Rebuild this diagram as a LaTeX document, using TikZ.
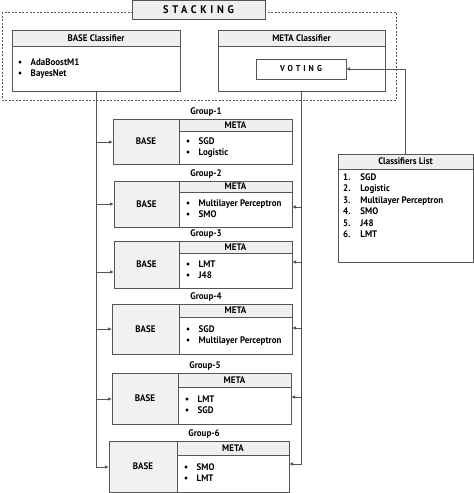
\documentclass[tikz,border=0pt]{standalone}
\usepackage{fontspec}
\setmainfont{PT Sans}[FakeStretch=0.94]
\usetikzlibrary{arrows.meta}
\definecolor{ln}{HTML}{555555}
\definecolor{hd}{HTML}{EFEFEF}
\definecolor{bf}{HTML}{F1F1F1}
\tikzset{
  txtfont/.style={font=\bfseries\fontsize{9.5}{11.5}\selectfont},
  plainbox/.style={draw=ln, line width=0.9pt, inner sep=0pt, outer sep=0pt, fill=white, txtfont},
  hdr/.style={plainbox, fill=hd},
  basefill/.style={plainbox, fill=bf},
  body/.style={plainbox},
  lbl/.style={txtfont, inner sep=0pt},
  conn/.style={draw=ln, line width=0.9pt},
  arr/.style={conn, -{Latex[length=4pt,width=3.6pt]}},
}
\newcommand\cbox[7]{%
  \pgfmathsetmacro\cbw{#5-#3}\pgfmathsetmacro\cbh{#6-#4}%
  \node[#1, minimum width=\cbw pt, minimum height=\cbh pt, anchor=north west] (#2) at (#3,#4) {#7};}
\newcommand\twoitems[2]{\begin{tabular}{@{}l@{\hspace{8.5pt}}l@{}}\textbullet & #1\\ \textbullet & #2\end{tabular}}
\newcommand\mkgroup[9]{%
  \cbox{basefill}{b#1}{#2}{#5}{#3}{#7}{BASE}
  \cbox{hdr}{m#1}{#3}{#5}{#4}{#6}{META}
  \cbox{body}{mb#1}{#3}{#6}{#4}{#7}{}
  \node[lbl, anchor=west, xshift=7pt] (it#1) at (mb#1.west) {\twoitems{#8}{#9}};
  \pgfmathsetmacro\glx{#3+27}\pgfmathsetmacro\gly{#5-7}%
  \node[lbl] (gl#1) at (\glx,\gly) {Group-#1};}
\begin{document}
\begin{tikzpicture}[x=1pt,y=-1pt]
\useasboundingbox (0,0) rectangle (474,493);
% outer dashed frame
\draw[ln, line width=0.7pt, dash pattern=on 2pt off 1.5pt] (2,12) rectangle (396,100);
\cbox{hdr}{stk}{132}{0}{265}{19}{\fontsize{11}{12}\selectfont\addfontfeature{LetterSpace=34}STACKING}
% base classifier
\cbox{hdr}{bch}{12}{30}{180}{46}{BASE Classifier}
\cbox{body}{bcb}{12}{46}{180}{91}{}
\node[lbl, anchor=west, xshift=6pt] (bcl) at (bcb.west) {\twoitems{AdaBoostM1}{BayesNet}};
% meta classifier
\cbox{hdr}{mch}{218}{30}{385}{46}{META Classifier}
\cbox{body}{mcb}{218}{46}{385}{91}{}
\cbox{body}{vot}{256}{59}{346}{79}{\fontsize{8.5}{10}\selectfont\addfontfeature{LetterSpace=36}VOTING}
% classifiers list
\cbox{hdr}{clh}{338}{154}{473}{169}{Classifiers List}
\cbox{body}{clb}{338}{169}{473}{262}{}
\node[lbl, anchor=north west] (cll) at (343,172) {\begin{tabular}{@{}l@{\hspace{10pt}}l@{}}1. & SGD\\ 2. & Logistic\\ 3. & Multilayer Perceptron\\ 4. & SMO\\ 5. & J48\\ 6. & LMT\end{tabular}};
% groups
\mkgroup{1}{113}{179}{292}{119}{131}{164}{SGD}{Logistic}
\mkgroup{2}{114}{179}{292}{181}{192}{227}{Multilayer Perceptron}{SMO}
\mkgroup{3}{114}{179}{292}{241}{253}{288}{LMT}{J48}
\mkgroup{4}{112}{179}{292}{304}{317}{354}{SGD}{Multilayer Perceptron}
\mkgroup{5}{112}{178}{291}{373}{387}{424}{LMT}{SGD}
\mkgroup{6}{109}{177}{289}{441}{455}{492}{SMO}{LMT}
% left trunk
\coordinate (l1) at (96,142);
\coordinate (l2) at (96,204);
\coordinate (l3) at (96,272);
\coordinate (l4) at (96,329);
\coordinate (l5) at (96,399);
\coordinate (l6) at (96,467);
\draw[conn] (bcb.south) -- (l6);
\foreach \i in {1,...,6} \draw[arr] (l\i) -- (l\i -| b\i.west);
% right trunk
\coordinate (r2) at (301.5,207);
\coordinate (r3) at (301.5,262);
\coordinate (r4) at (301.5,328);
\coordinate (r5) at (301.5,397);
\coordinate (r6) at (301.5,464);
\draw[conn] (mcb.south) -- (r6);
\foreach \i in {2,...,6} \draw[arr] (r\i) -- (r\i -| mb\i.east);
% classifiers list to voting
\draw[arr] (clh.north) -- (clh.north |- vot.east) -- (vot.east);
\end{tikzpicture}
\end{document}
